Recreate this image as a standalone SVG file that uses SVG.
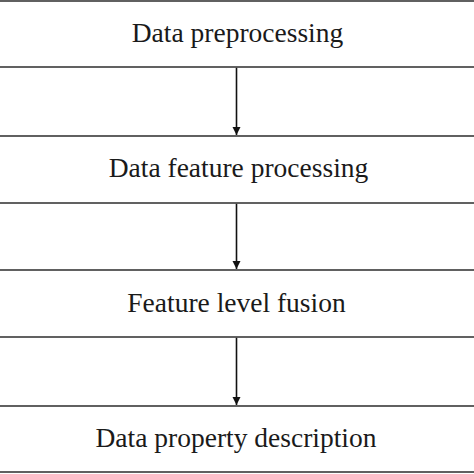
<svg xmlns="http://www.w3.org/2000/svg" width="474" height="474" viewBox="0 0 474 474">
<defs>
<style>
.box{fill:#fff;stroke:#3a3a3a;stroke-width:1.6}
.lbl{font-family:"Liberation Serif","Times New Roman",serif;font-size:27.5px;fill:#1a1a1a;text-anchor:middle}
.conn{stroke:#111;stroke-width:1.6;fill:none}
</style>
<marker id="ah" markerWidth="9" markerHeight="9" refX="8" refY="4.5" orient="auto" markerUnits="userSpaceOnUse">
<path d="M0,0.5 L8,4.5 L0,8.5 Z" fill="#111"/>
</marker>
</defs>
<rect width="474" height="474" fill="#fff"/>
<g id="n1"><rect class="box" x="-3" y="1" width="480" height="66"/><text class="lbl" x="237.5" y="42">Data preprocessing</text></g>
<g id="n2"><rect class="box" x="-3" y="136" width="480" height="67"/><text class="lbl" x="238.5" y="177">Data feature processing</text></g>
<g id="n3"><rect class="box" x="-3" y="270" width="480" height="67"/><text class="lbl" x="236.5" y="312">Feature level fusion</text></g>
<g id="n4"><rect class="box" x="-3" y="406" width="480" height="66"/><text class="lbl" x="236" y="447">Data property description</text></g>
<g id="connectors">
<line class="conn" x1="236.5" y1="67.8" x2="236.5" y2="135" marker-end="url(#ah)"/>
<line class="conn" x1="236.5" y1="203.8" x2="236.5" y2="269" marker-end="url(#ah)"/>
<line class="conn" x1="236.5" y1="337.8" x2="236.5" y2="405" marker-end="url(#ah)"/>
</g>
</svg>
